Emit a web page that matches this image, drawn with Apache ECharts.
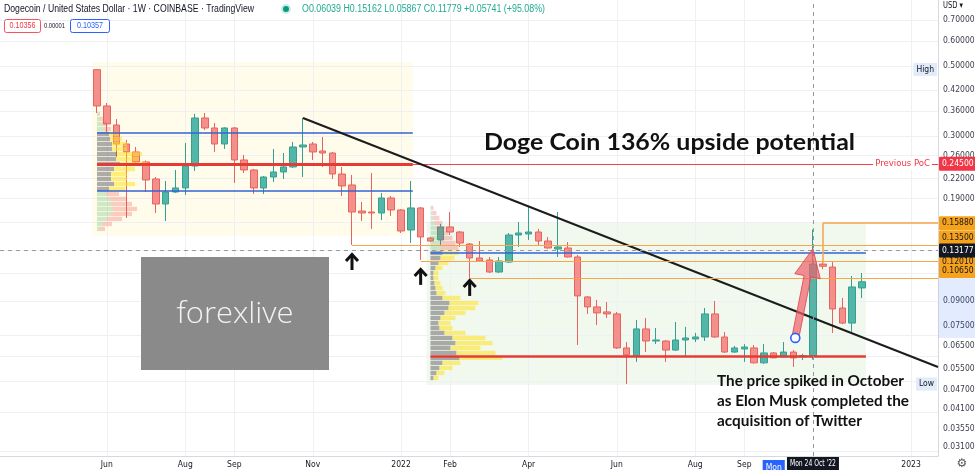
<!DOCTYPE html>
<html><head><meta charset="utf-8">
<script src="https://cdn.jsdelivr.net/npm/echarts@6/dist/echarts.min.js"></script>
<style>html,body{margin:0;padding:0;background:#fff}#c{width:975px;height:470px}</style>
</head><body><div id="c"></div>
<script>
// ---------------- DATA ----------------
const firstWeek = '2021-05-31';            // week of candle index 0 (weekly bars)
const candleOpen  = [0.487,0.3737,0.3252,0.2831,0.2671,0.2483,0.2193,0.1827,0.1994,0.2054,0.2411,0.3423,0.3182,0.2831,0.3182,0.2519,0.2342,0.2054,0.2225,0.2308,0.2394,0.2770,0.2831,0.2690,0.2651,0.2274,0.2099,0.1736,0.1723,0.1711,0.1909,0.1749,0.1511,0.1775,0.1425,0.1405,0.1545,0.1489,0.1364,0.1232,0.1214,0.1112,0.1196,0.1457,0.1468,0.1489,0.1394,0.1315,0.1325,0.1241,0.0927,0.0862,0.0831,0.0819,0.0639,0.0603,0.0734,0.0672,0.0672,0.0629,0.0677,0.0682,0.0692,0.0819,0.0692,0.0620,0.0634,0.0639,0.0573,0.0616,0.0599,0.0620,0.0599,0.06039,0.1178,0.1153,0.0855,0.0766,0.0990];
const candleHigh  = [0.4875,0.3819,0.3398,0.2915,0.2770,0.2510,0.2225,0.2161,0.2342,0.2852,0.3525,0.3550,0.3301,0.3200,0.3205,0.2613,0.2360,0.2240,0.2730,0.2651,0.2873,0.3423,0.2873,0.2980,0.2671,0.2394,0.2258,0.1854,0.2291,0.1980,0.1937,0.1760,0.2161,0.1788,0.1436,0.1579,0.1723,0.1500,0.1374,0.1394,0.1241,0.1241,0.1478,0.1602,0.1788,0.1523,0.1436,0.1723,0.1384,0.1259,0.0934,0.0907,0.0893,0.0831,0.0667,0.0783,0.0795,0.0739,0.0677,0.0772,0.0745,0.0713,0.0855,0.0900,0.0718,0.0648,0.0657,0.0653,0.0657,0.0620,0.0667,0.0629,0.0612,0.15162,0.1190,0.1196,0.0920,0.1080,0.1104];
const candleLow   = [0.3550,0.3091,0.2575,0.1650,0.2411,0.1994,0.1711,0.1614,0.1980,0.1951,0.2325,0.3136,0.2671,0.2730,0.2130,0.2291,0.1966,0.1966,0.2146,0.2193,0.2377,0.2225,0.2519,0.2394,0.2193,0.1937,0.1355,0.1614,0.1523,0.1625,0.1674,0.1478,0.1374,0.1214,0.1384,0.1355,0.1457,0.1335,0.1065,0.1200,0.1104,0.1104,0.1188,0.1335,0.1405,0.1345,0.1320,0.1241,0.1235,0.0653,0.0819,0.0755,0.0795,0.0634,0.04908,0.0577,0.0620,0.0657,0.0577,0.0625,0.0603,0.0667,0.0672,0.0688,0.0616,0.0616,0.0577,0.0570,0.0569,0.0594,0.0597,0.0556,0.0585,0.05867,0.1135,0.0713,0.0760,0.0718,0.0920];
const candleClose = [0.3737,0.3277,0.2831,0.2671,0.2483,0.2177,0.1827,0.1994,0.2054,0.2411,0.3423,0.3182,0.2831,0.3182,0.2519,0.2342,0.2054,0.2225,0.2308,0.2394,0.2770,0.2810,0.2671,0.2651,0.2274,0.2084,0.1723,0.1711,0.1711,0.1909,0.1749,0.1500,0.1775,0.1436,0.1394,0.1545,0.1489,0.1374,0.1232,0.1205,0.1112,0.1205,0.1457,0.1478,0.1489,0.1394,0.1325,0.1335,0.1241,0.0934,0.0862,0.0825,0.0819,0.0639,0.0607,0.0734,0.0672,0.0677,0.0629,0.0677,0.0687,0.0692,0.0819,0.0692,0.0620,0.0639,0.0643,0.0573,0.0616,0.0594,0.0620,0.0594,0.06038,0.11779,0.1160,0.0849,0.0766,0.0997,0.10356];

const monthTickIndex = [1, 9, 14, 22, 31, 36, 44, 53, 61, 66, 83];
const monthTickLabel = ['Jun','Aug','Sep','Nov','2022','Feb','Apr','Jun','Aug','Sep','2023'];
const priceTicks = [0.70,0.60,0.50,0.42,0.36,0.30,0.26,0.22,0.19,0.16,0.13,0.11,0.09,0.075,0.065,0.055,0.047,0.041,0.0355,0.031];

// Fixed-range volume profiles (price row, up volume, down volume)
const profile1Price = [0.3525,0.3398,0.3277,0.3159,0.3046,0.2936,0.2831,0.2730,0.2632,0.2538,0.2447,0.2359,0.2274,0.2193,0.2114,0.2038,0.1966,0.1895,0.1827,0.1762,0.1699,0.1638,0.1579,0.1523];
const profile1Up    = [2,3,5,7,12,13,15,15,20,19,23,17,14,14,17,12,9,12,14,16,14,10,6,3];
const profile1Down  = [1,3,5,7,10,12,15,15,25,23,27,21,16,16,21,16,13,18,21,24,21,15,9,5];
const profile2Price = [0.1775,0.1711,0.1650,0.1590,0.1533,0.1478,0.1425,0.1374,0.1325,0.1278,0.1232,0.1188,0.1145,0.1104,0.1065,0.1026,0.0990,0.0954,0.0920,0.0887,0.0855,0.0825,0.0795,0.0766,0.0739,0.0713,0.0687,0.0662,0.0639,0.0616,0.0594,0.0573,0.0552,0.0532,0.0513];
const profile2Up    = [1,2,3,4,5,7,8,9,10,12,10,8,5,3,3,4,5,6,12,19,18,14,10,8,9,14,22,25,20,26,29,12,9,6,3];
const profile2Down  = [2,4,6,8,10,11,14,16,18,16,14,10,7,5,5,6,7,9,18,29,27,21,15,12,13,21,33,37,30,39,43,18,13,8,5];

const profile1Range = [0, 32.2];    const profile1Box = [0.515, 0.1447];
const profile2Range = [34, 78.4];   const profile2Box = [0.1600, 0.0487];
const profile1VAH = 0.307, profile1VAL = 0.2009, profile1POC = 0.245;
const profile2VAH = 0.128, profile2VAL = 0.050,  profile2POC = 0.0603;
const previousPoC = 0.245;
const trendStart = [21, 0.3423], trendEnd = [85.75, 0.0556];
const resistLevels = [0.1588, 0.135, 0.1201, 0.1065];
const resistFrom   = [74, 26, 33, 38];
const allTimeHigh = 0.4875, allTimeLow = 0.04908;
const crossIndex = 73, crossPrice = 0.13177, selIndex = 69;
const crossDateLabel = "Mon 24 Oct '22", selDateLabel = 'Mon';
const lastPrice = 0.10356, lastCountdown = '17:18:05';
const arrowStart = [71.2, 0.06875], arrowEnd = [73, 0.13177];
const bounceIndex = [26, 33, 38], bouncePrice = [0.1196, 0.1073, 0.0990];
const xMin = -9.89, xMax = 85.75, yMin = 0.02903, yMax = 0.8098;

// ---------------- CHART ----------------
const NARROW = '"Liberation Sans Narrow","DejaVu Sans Condensed","Liberation Sans",sans-serif';
const chart = echarts.init(document.getElementById('c'), null, {renderer: 'canvas'});
const candleData = candleOpen.map((o, i) => [i, o, candleClose[i], candleLow[i], candleHigh[i]]);
const prof1 = profile1Price.map((p, i) => [profile1Range[0], p, profile1Up[i], profile1Down[i]]);
const prof2 = profile2Price.map((p, i) => [profile2Range[0], p, profile2Up[i], profile2Down[i]]);

function profileRender(vaLow, vaHigh) {
  return function (params, api) {
    const price = api.value(1), up = api.value(2), down = api.value(3);
    const p = api.coord([api.value(0), price]);
    const h = 4.3;
    const inVA = price >= vaLow && price <= vaHigh;
    return {type: 'group', children: [
      {type: 'rect', shape: {x: p[0], y: p[1] - h / 2, width: up, height: h},
       style: {fill: inVA ? 'rgba(105,105,110,0.55)' : 'rgba(102,187,106,0.30)'}},
      {type: 'rect', shape: {x: p[0] + up, y: p[1] - h / 2, width: down, height: h},
       style: {fill: inVA ? 'rgba(255,226,30,0.55)' : 'rgba(239,83,80,0.28)'}}
    ]};
  };
}

function tag(text, bg, fg, extra) {
  return Object.assign({show: true, position: 'end', distance: 1, formatter: text,
    backgroundColor: bg, color: fg, fontSize: 8.5, fontFamily: NARROW, padding: [2, 2, 2, 3],
    width: 32, lineHeight: 10, borderRadius: 1}, extra || {});
}
const orange = '#f5a54a';
const solid = (color, width) => ({color: color, width: width, type: 'solid'});
const dashed = {color: '#9598a1', width: 1, type: [4, 4]};
const levelLines = [
  [{coord: [profile1Range[0], profile1VAH], lineStyle: solid('#3563d6', 1.5)}, {coord: [profile1Range[1], profile1VAH]}],
  [{coord: [profile1Range[0], profile1VAL], lineStyle: solid('#3563d6', 1.5)}, {coord: [profile1Range[1], profile1VAL]}],
  [{coord: [profile1Range[0], profile1POC], lineStyle: solid('#e53b36', 3)}, {coord: [profile1Range[1], profile1POC]}],
  [{coord: [profile1Range[1], previousPoC], lineStyle: solid('#f0424a', 1.2),
    label: tag(previousPoC.toFixed(5), '#f23645', '#fff')}, {coord: [xMax, previousPoC]}],
  [{coord: [profile2Range[0], profile2VAH], lineStyle: solid('#3563d6', 1.5)}, {coord: [profile2Range[1], profile2VAH]}],
  [{coord: [profile2Range[0], profile2POC], lineStyle: solid('#e53b36', 2.5)}, {coord: [profile2Range[1], profile2POC]}],
  [{coord: trendStart, lineStyle: solid('#1c1c1c', 2)}, {coord: trendEnd}],
  [{coord: [resistFrom[0], resistLevels[0]], lineStyle: solid(orange, 1.5), label: tag(resistLevels[0].toFixed(5), '#f7a21b', '#131722')}, {coord: [xMax, resistLevels[0]]}],
  [{coord: [resistFrom[0], resistLevels[0]], lineStyle: solid(orange, 1.5)}, {coord: [resistFrom[0], 0.1188]}],
  [{coord: [resistFrom[1], resistLevels[1]], lineStyle: solid(orange, 1), label: tag(resistLevels[1].toFixed(5), '#f7a21b', '#131722', {offset: [0, -8]})}, {coord: [xMax, resistLevels[1]]}],
  [{coord: [resistFrom[2], resistLevels[2]], lineStyle: solid(orange, 1), label: tag(resistLevels[2].toFixed(5), '#f7a21b', '#131722')}, {coord: [xMax, resistLevels[2]]}],
  [{coord: [resistFrom[3], resistLevels[3]], lineStyle: solid(orange, 1), label: tag(resistLevels[3].toFixed(5), '#f7a21b', '#131722', {offset: [0, -7]})}, {coord: [xMax, resistLevels[3]]}],
  {yAxis: crossPrice, lineStyle: dashed, label: tag(crossPrice.toFixed(5), '#131722', '#fff')},
  {xAxis: crossIndex, lineStyle: dashed, label: {show: false}},
  {yAxis: lastPrice, lineStyle: {opacity: 0}, label: tag(lastPrice.toFixed(5) + '\n' + lastCountdown, '#22a08f', '#fff', {offset: [0, 5]})},
  {yAxis: arrowStart[1], lineStyle: {opacity: 0}, label: tag(arrowStart[1].toFixed(5), '#2962ff', '#fff')},
  {yAxis: allTimeHigh, lineStyle: {opacity: 0}, label: tag(allTimeHigh.toFixed(5), '#e2ebf9', '#131722')},
  {yAxis: allTimeLow, lineStyle: {opacity: 0}, label: tag(allTimeLow.toFixed(5), '#e2ebf9', '#131722')}
];

const option = {
  animation: false,
  backgroundColor: '#ffffff',
  grid: {left: 0, right: 37, top: 0, bottom: 14, outerBoundsMode: 'none', containLabel: false},
  xAxis: {
    type: 'value', min: xMin, max: xMax,
    axisLine: {show: true, onZero: false, lineStyle: {color: '#d6d9e0'}},
    axisTick: {show: false}, splitLine: {show: false},
    axisLabel: {
      customValues: [...monthTickIndex, selIndex],
      hideOverlap: false,
      color: '#131722', fontSize: 8.5, fontFamily: NARROW, margin: 4,
      formatter: function (v) {
        const i = monthTickIndex.indexOf(v);
        if (i >= 0) return monthTickLabel[i];
        if (v === selIndex) return '{sel|' + selDateLabel + '}';
        return '';
      },
      rich: {
        sel: {backgroundColor: '#2962ff', color: '#fff', padding: [3, 3, 2, 3], fontSize: 8.5, fontFamily: NARROW}
      }
    }
  },
  yAxis: {
    type: 'log', logBase: 10, min: yMin, max: yMax, position: 'right',
    axisLine: {show: true, onZero: false, lineStyle: {color: '#d6d9e0'}},
    axisTick: {show: false}, splitLine: {show: false},
    axisLabel: {customValues: priceTicks, formatter: v => Number(v).toFixed(5), hideOverlap: false,
      color: '#3b3f4a', fontSize: 8.5, fontFamily: NARROW, margin: 5}
  },
  series: [
    {name: 'grid', type: 'line', data: [], silent: true, clip: false, z: 0,
     markLine: {silent: true, symbol: ['none', 'none'], z: 0, label: {show: false},
       lineStyle: {color: '#eef0f4', width: 1, type: 'solid'},
       data: [...monthTickIndex.map(v => ({xAxis: v})), ...priceTicks.map(v => ({yAxis: v}))]},
     markArea: {silent: true, z: 0,
       data: [
         [{coord: [profile1Range[0] - 0.5, profile1Box[0]], itemStyle: {color: 'rgba(255,238,130,0.16)'}}, {coord: [profile1Range[1], profile1Box[1]]}],
         [{coord: [profile2Range[0] - 0.4, profile2Box[0]], itemStyle: {color: 'rgba(170,215,150,0.16)'}}, {coord: [profile2Range[1], profile2Box[1]]}]
       ]}
    },
    {name: 'Dogecoin', type: 'candlestick', data: candleData, encode: {x: 0, y: [1, 2, 3, 4]}, barWidth: 7, z: 2,
     itemStyle: {color: '#52b6a8', color0: '#f3908c', borderColor: '#33a092', borderColor0: '#e8625e', borderWidth: 1}},
    {name: 'profile1', type: 'custom', data: prof1, encode: {x: 0, y: 1}, z: 3, silent: true, clip: false, renderItem: profileRender(profile1VAL, profile1VAH)},
    {name: 'profile2', type: 'custom', data: prof2, encode: {x: 0, y: 1}, z: 3, silent: true, clip: false, renderItem: profileRender(profile2VAL, profile2VAH)},
    {name: 'levels', type: 'line', data: [], silent: true, clip: false, z: 5,
     markLine: {silent: true, symbol: ['none', 'none'], label: {show: false}, lineStyle: {type: 'solid'}, data: levelLines},
     markPoint: {silent: true, symbol: 'rect', symbolSize: 0,
       data: [
         {coord: [xMax, allTimeHigh], label: {show: true, position: 'left', distance: 1, formatter: 'High', color: '#131722', backgroundColor: '#e2ebf9', padding: [2, 3, 2, 3], fontSize: 8.5, fontFamily: NARROW}},
         {coord: [xMax, allTimeLow], label: {show: true, position: 'left', distance: 1, formatter: 'Low', color: '#131722', backgroundColor: '#e2ebf9', padding: [2, 3, 2, 3], fontSize: 8.5, fontFamily: NARROW}},
         {coord: [xMax, previousPoC], label: {show: true, position: 'left', distance: 6, formatter: 'Previous PoC', color: '#f23645', backgroundColor: '#fff', padding: [1, 2, 1, 2], fontSize: 9.5, fontFamily: NARROW}}
       ]}
    }
  ]
};
chart.setOption(option);

// ---------------- ANNOTATIONS ----------------
const mctx = document.createElement('canvas').getContext('2d');
function fitText(text, font, x, y, width, fill, align) {
  mctx.font = font;
  const w = mctx.measureText(text).width || 1;
  return {type: 'text', x: x, y: y, scaleX: width / w, z: 100,
    style: {text: text, font: font, fill: fill, verticalAlign: 'middle', align: align || 'left'}};
}
const px = v => chart.convertToPixel({xAxisIndex: 0, yAxisIndex: 0}, v);
const g = [];
// price-axis selection highlight
const hlTop = px([0, 0.1232])[1], hlBot = px([0, arrowStart[1]])[1];
g.push({type: 'rect', z: 1, shape: {x: 938.5, y: hlTop, width: 37, height: hlBot - hlTop}, style: {fill: 'rgba(41,98,255,0.13)'}});
// crosshair date label on the time axis
const CX = px([crossIndex, yMin])[0];
g.push({type: 'rect', z: 99, shape: {x: CX - 26, y: 457, width: 52, height: 13}, style: {fill: '#131722'}});
g.push(fitText(crossDateLabel, '9px ' + NARROW, CX, 464, 46, '#ffffff', 'center'));
// big red arrow
const S = px(arrowStart), T = px(arrowEnd);
let dx = T[0] - S[0], dy = T[1] - S[1]; const L = Math.hypot(dx, dy); dx /= L; dy /= L;
const nx = -dy, ny = dx, head = 28, hw = 13, sw = 3.5;
const B = [T[0] - dx * head, T[1] - dy * head];
g.push({type: 'polygon', z: 90, shape: {points: [
  [S[0] + nx * sw, S[1] + ny * sw], [B[0] + nx * sw, B[1] + ny * sw], [B[0] + nx * hw, B[1] + ny * hw], T,
  [B[0] - nx * hw, B[1] - ny * hw], [B[0] - nx * sw, B[1] - ny * sw], [S[0] - nx * sw, S[1] - ny * sw]]},
  style: {fill: 'rgba(240,95,105,0.7)', stroke: 'rgba(225,70,80,0.85)', lineWidth: 1}});
g.push({type: 'circle', z: 91, shape: {cx: S[0], cy: S[1], r: 4.5}, style: {fill: '#fff', stroke: '#2962ff', lineWidth: 1.6}});
// black bounce arrows
bounceIndex.forEach((bi, k) => {
  const P = px([bi, bouncePrice[k]]);
  g.push({type: 'polyline', z: 90, shape: {points: [[P[0], P[1] + 8], [P[0], P[1] - 7]]}, style: {stroke: '#111', lineWidth: 3}});
  g.push({type: 'polyline', z: 90, shape: {points: [[P[0] - 6, P[1] - 1], [P[0], P[1] - 7.5], [P[0] + 6, P[1] - 1]]}, style: {stroke: '#111', lineWidth: 3, fill: null}});
});
// forexlive logo
g.push({type: 'rect', z: 95, shape: {x: 141, y: 257, width: 188, height: 113}, style: {fill: '#8a8a8a'}});
g.push(fitText('forexlive', '300 30px "Open Sans"', 235, 314, 117, '#f2f2f2', 'center'));
// headline & note
g.push(fitText('Doge Coin 136% upside potential', 'bold 22px Lato', 484, 143, 371, '#111111'));
g.push(fitText('The price spiked in October', 'bold 15px Lato', 717, 381, 187, '#111111'));
g.push(fitText('as Elon Musk completed the', 'bold 15px Lato', 717, 401, 192, '#111111'));
g.push(fitText('acquisition of Twitter', 'bold 15px Lato', 717, 421, 145, '#111111'));
// header
g.push(fitText('Dogecoin / United States Dollar · 1W · COINBASE · TradingView', '11px "Liberation Sans"', 4, 9, 250, '#131722'));
g.push({type: 'circle', z: 100, shape: {cx: 286, cy: 9, r: 5}, style: {fill: 'rgba(8,153,129,0.2)'}});
g.push({type: 'circle', z: 100, shape: {cx: 286, cy: 9, r: 3}, style: {fill: '#089981'}});
const o = candleOpen[crossIndex], h = candleHigh[crossIndex], l = candleLow[crossIndex], c = candleClose[crossIndex], pc = candleClose[crossIndex - 1];
const ohlc = 'O' + o.toFixed(5) + ' H' + h.toFixed(5) + ' L' + l.toFixed(5) + ' C' + c.toFixed(5) + ' +' + (c - pc).toFixed(5) + ' (+' + ((c - pc) / pc * 100).toFixed(2) + '%)';
g.push(fitText(ohlc, '10px "Liberation Sans"', 302, 9, 243, '#22ab94'));
g.push({type: 'rect', z: 100, shape: {x: 4.5, y: 19.5, width: 36, height: 13, r: 2}, style: {fill: '#fff', stroke: '#f7525f', lineWidth: 1}});
g.push(fitText(lastPrice.toFixed(5), '9px "Liberation Sans"', 22.5, 26, 26, '#f23645', 'center'));
g.push(fitText('0.00001', '8px "Liberation Sans"', 44, 26, 21, '#131722'));
g.push({type: 'rect', z: 100, shape: {x: 70.5, y: 19.5, width: 39, height: 13, r: 2}, style: {fill: '#fff', stroke: '#2962ff', lineWidth: 1}});
g.push(fitText((lastPrice + 0.00001).toFixed(5), '9px "Liberation Sans"', 90, 26, 26, '#2962ff', 'center'));
g.push(fitText('USD ▾', '9px "DejaVu Sans"', 943, 6, 20, '#131722'));
g.push({type: 'text', z: 100, x: 962, y: 464, style: {text: '⚙', font: '12px "DejaVu Sans"', fill: '#555', align: 'center', verticalAlign: 'middle'}});
chart.setOption({graphic: g});
</script>
</body></html>
